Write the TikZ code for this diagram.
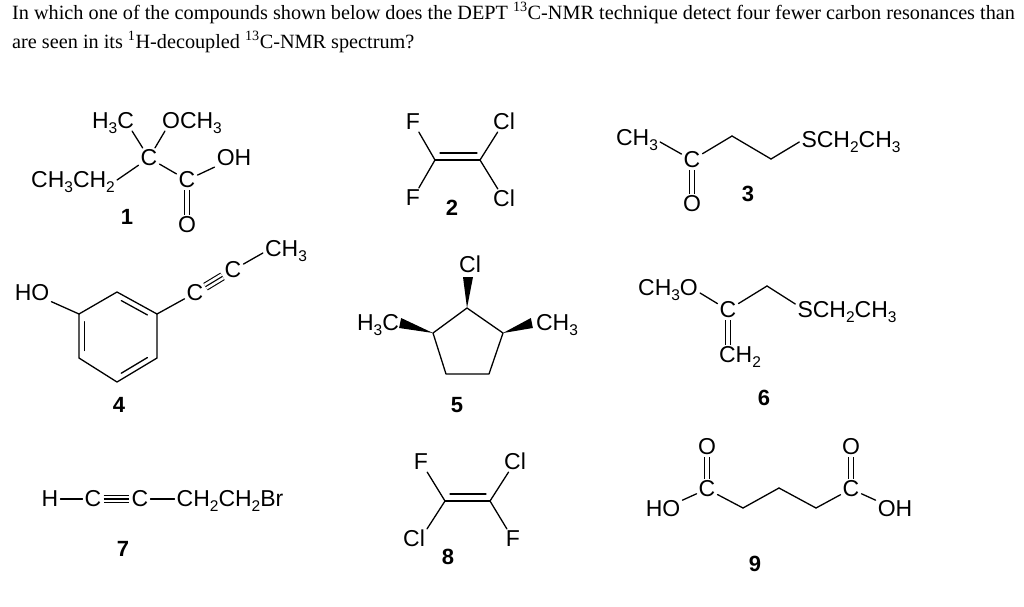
\documentclass[tikz,border=0pt]{standalone}
\usepackage{fontspec}
\setmainfont{Liberation Serif}
\setsansfont{Liberation Sans}
\usepackage{tikz}
\usetikzlibrary{positioning,calc}
\newcommand{\dn}[1]{\raisebox{-.22em}{\fontsize{15.5}{15}\selectfont #1}}
\tikzset{
	atom/.style={
		font=\sffamily\fontsize{23}{24}\selectfont,
		text height=15.8pt,
		text depth=0pt,
		inner sep=2pt,
	},
	number/.style={
		font=\sffamily\bfseries\fontsize{22}{24}\selectfont,
		inner sep=0pt,
	},
	question/.style={
		font=\fontsize{20.24}{24}\selectfont,
		anchor=base west,
		inner sep=0pt,
	},
	bond/.style={
		line width=1.3pt,
		line cap=round,
		line join=round,
	},
	dbond/.style={
		line width=1.2pt,
		double,
		double distance=3.4pt,
	},
	tbond/.style={
		line width=1.1pt,
		double,
		double distance=6.4pt,
	},
	tmid/.style={
		line width=1.1pt,
	},
}
\begin{document}
\begin{tikzpicture}[x=1pt, y=-1pt]
				\useasboundingbox (0,0) rectangle (1024,606);
				% question
				\node [question] (Q1) at (12,19) {In which one of the compounds shown below does the DEPT \textsuperscript{13}C-NMR technique detect four fewer carbon resonances than};
				\node [question] (Q2) at (12,48) {are seen in its \textsuperscript{1}H-decoupled \textsuperscript{13}C-NMR spectrum?};

				% compound 1
				\node [atom] (A1) at (113,121) {H\dn{3}C};
				\node [atom] (A2) at (192,121) {OCH\dn{3}};
				\node [atom] (A3) at (149,158) {C};
				\node [atom] (A4) at (234,158) {OH};
				\node [atom] (A5) at (73,180) {CH\dn{3}CH\dn{2}};
				\node [atom] (A6) at (187,180) {C};
				\node [atom] (A7) at (187,225) {O};
				\node [number] (N1) at (127,217) {1};
				\path[bond] ([xshift=-4pt]A1.south east) edge (A3);
				\path[bond] ([xshift=5pt]A2.south west) edge (A3);
				\path[bond] (A5.east) edge (A3);
				\path[bond] (A3) edge (A6);
				\path[bond] (A6) edge (A4);
				\draw[dbond] (A6) -- (A7);

				% compound 2
				\node [atom] (B1) at (413,122) {F};
				\node [atom] (B2) at (504,122) {Cl};
				\node [atom] (B3) at (413,198) {F};
				\node [atom] (B4) at (504,199) {Cl};
				\coordinate (B5) at (435,160);
				\coordinate (B6) at (480,160);
				\node [number] (N2) at (452,208) {2};
				\path[bond] (B1) edge (B5);
				\path[bond] (B3) edge (B5);
				\path[bond] (B2) edge (B6);
				\path[bond] (B4) edge (B6);
				\path[bond] (B5) edge (B6);
				\path[bond] ([shift={(5,-7)}]B5) edge ([shift={(-3,-7)}]B6);

				% compound 3
				\node [atom] (C1) at (637,138) {CH\dn{3}};
				\node [atom] (C2) at (692,160) {C};
				\node [atom] (C3) at (692,204) {O};
				\coordinate (C4) at (732,136);
				\coordinate (C5) at (771,159);
				\node [atom] (C6) at (851,140) {SCH\dn{2}CH\dn{3}};
				\node [number] (N3) at (748,194) {3};
				\path[bond] ([yshift=-4pt]C1.east) edge (C2);
				\path[bond] (C2) edge (C4);
				\path[bond] (C4) edge (C5);
				\path[bond] (C5) edge ([yshift=-2pt]C6.west);
				\draw[dbond] (C2) -- (C3);

				% compound 4
				\node [atom] (D1) at (32,293) {HO};
				\coordinate (D2) at (117,292);
				\coordinate (D3) at (157,314);
				\coordinate (D4) at (157,358);
				\coordinate (D5) at (117,382);
				\coordinate (D6) at (79,358);
				\coordinate (D7) at (79,314);
				\coordinate (D8) at (118,337);
				\node [atom] (D9) at (195,293) {C};
				\node [atom] (D10) at (233,270) {C};
				\node [atom] (D11) at (286,249) {CH\dn{3}};
				\node [number] (N4) at (119,405) {4};
				\draw[bond] (D2) -- (D3) -- (D4) -- (D5) -- (D6) -- (D7) -- cycle;
				\path[bond] ($(D2)!.12!(D3)!.14!(D8)$) edge ($(D3)!.12!(D2)!.14!(D8)$);
				\path[bond] ($(D4)!.12!(D5)!.14!(D8)$) edge ($(D5)!.12!(D4)!.14!(D8)$);
				\path[bond] ($(D6)!.12!(D7)!.14!(D8)$) edge ($(D7)!.12!(D6)!.14!(D8)$);
				\path[bond] (D1) edge (D7);
				\path[bond] (D3) edge (D9);
				\draw[tbond] (D9) -- (D10);
				\draw[tmid] (D9) -- (D10);
				\path[bond] (D10) edge ([yshift=-4pt]D11.west);

				% compound 5
				\node [atom] (E1) at (470,265) {Cl};
				\node [atom] (E2) at (378,323) {H\dn{3}C};
				\node [atom] (E3) at (557,323) {CH\dn{3}};
				\coordinate (E4) at (467,308);
				\coordinate (E5) at (503,333);
				\coordinate (E6) at (489,374);
				\coordinate (E7) at (446,374);
				\coordinate (E8) at (433,333);
				\node [number] (N5) at (457,405) {5};
				\draw[bond] (E4) -- (E5) -- (E6) -- (E7) -- (E8) -- cycle;
				\fill (E4) -- ([shift={(-7,2)}]E1.south) -- ([shift={(3,2)}]E1.south) -- cycle;
				\fill (E8) -- ([shift={(0,-5)}]E2.east) -- ([shift={(-2,5)}]E2.east) -- cycle;
				\fill (E5) -- ([shift={(-3,-5)}]E3.west) -- ([shift={(-1,5)}]E3.west) -- cycle;

				% compound 6
				\node [atom] (F1) at (668,288) {CH\dn{3}O};
				\node [atom] (F2) at (728,310) {C};
				\coordinate (F3) at (767,286);
				\node [atom] (F4) at (847,310) {SCH\dn{2}CH\dn{3}};
				\node [atom] (F5) at (740,355) {CH\dn{2}};
				\node [number] (N6) at (764,398) {6};
				\path[bond] ([yshift=-5pt]F1.east) edge (F2);
				\path[bond] (F2) edge (F3);
				\path[bond] (F3) edge ([yshift=6pt]F4.west);
				\draw[dbond] (F2) -- ([xshift=-12pt]F5.north);

				% compound 7
				\node [atom] (G1) at (50,499) {H};
				\node [atom] (G2) at (93,499) {C};
				\node [atom] (G3) at (140,499) {C};
				\node [atom] (G4) at (230,499) {CH\dn{2}CH\dn{2}Br};
				\node [number] (N7) at (123,549) {7};
				\path[bond] (G1) edge (G2);
				\draw[tbond] (G2) -- (G3);
				\draw[tmid] (G2) -- (G3);
				\path[bond] (G3) edge (G4);

				% compound 8
				\node [atom] (H1) at (421,462) {F};
				\node [atom] (H2) at (515,462) {Cl};
				\node [atom] (H3) at (414,539) {Cl};
				\node [atom] (H4) at (513,539) {F};
				\coordinate (H5) at (445,501);
				\coordinate (H6) at (490,501);
				\node [number] (N8) at (448,557) {8};
				\path[bond] (H1) edge (H5);
				\path[bond] ([xshift=13pt]H3.north) edge (H5);
				\path[bond] (H2) edge (H6);
				\path[bond] (H4) edge (H6);
				\path[bond] (H5) edge (H6);
				\path[bond] ([shift={(5,-7)}]H5) edge ([shift={(-4,-7)}]H6);

				% compound 9
				\node [atom] (J1) at (707,447) {O};
				\node [atom] (J2) at (707,489) {C};
				\node [atom] (J3) at (663,509) {HO};
				\coordinate (J4) at (743,508);
				\coordinate (J5) at (779,488);
				\coordinate (J6) at (816,508);
				\node [atom] (J7) at (851,489) {C};
				\node [atom] (J8) at (851,447) {O};
				\node [atom] (J9) at (895,509) {OH};
				\node [number] (N9) at (755,564) {9};
				\draw[dbond] (J2) -- (J1);
				\draw[dbond] (J7) -- (J8);
				\path[bond] (J3) edge (J2);
				\path[bond] (J2) edge (J4);
				\path[bond] (J4) edge (J5);
				\path[bond] (J5) edge (J6);
				\path[bond] (J6) edge (J7);
				\path[bond] (J7) edge (J9);
			\end{tikzpicture}
\end{document}
